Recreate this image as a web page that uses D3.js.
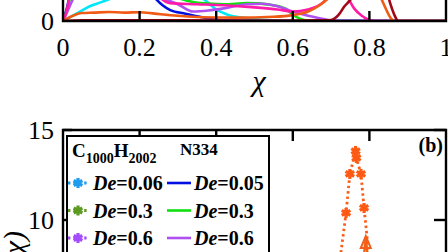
<!DOCTYPE html>
<html>
<head>
<meta charset="utf-8">
<script src="https://cdn.jsdelivr.net/npm/d3@7"></script>
<style>
  body { margin: 0; background: #fff; }
  svg { display: block; }
</style>
</head>
<body>
<div id="chart"></div>
<script>
// x ticks shared by both panels
const xTicks = [0, 0.2, 0.4, 0.6, 0.8, 1];
const xTickLabels = ["0", "0.2", "0.4", "0.6", "0.8", "1"];

// panel (a): only the bottom strip of it is in view
const aBlue   = [[0,0],[0.01,0.6],[0.02,1.4],[0.04,2.5],[0.08,3.5],[0.15,3],[0.22,1.5],[0.26,0.75],[0.28,0.52],[0.32,0.35],[0.36,0.19],[0.4,0.06],[0.45,0.02],[0.5,0],[1,0]];
const aGreen  = [[0,0],[0.01,0.5],[0.02,1.2],[0.05,2.5],[0.1,3],[0.2,2],[0.3,1.1],[0.36,0.85],[0.42,0.8],[0.48,0.85],[0.54,0.78],[0.58,0.6],[0.6,0.3],[0.62,0.1],[0.65,0],[1,0]];
const aPurple = [[0,0],[0.01,0.4],[0.03,1.2],[0.08,2.5],[0.18,2],[0.26,1.1],[0.3,0.8],[0.34,0.45],[0.38,0.5],[0.42,0.6],[0.48,0.8],[0.52,0.82],[0.56,0.7],[0.6,0.45],[0.64,0.25],[0.68,0.1],[0.7,0.02],[1,0]];
const aPink   = [[0,0],[0.01,0.5],[0.02,1.5],[0.05,3],[0.12,3.5],[0.2,2.2],[0.28,0.85],[0.35,0.8],[0.42,0.75],[0.5,0.65],[0.56,0.55],[0.6,0.45],[0.64,0.55],[0.68,0.9],[0.7,1.3],[0.72,1.5],[0.74,1.2],[0.76,0.6],[0.78,0.25],[0.8,0.05],[0.82,0],[1,0]];
const aCyan   = [[0,0],[0.02,0.2],[0.04,0.4],[0.07,0.7],[0.1,0.9],[0.13,1.1],[0.2,1.6],[0.3,1.4],[0.37,1],[0.4,0.55],[0.43,0.3],[0.47,0.15],[0.52,0.06],[0.6,0.01],[1,0]];
const aOrange = [[0,0],[0.02,0.2],[0.05,0.38],[0.08,0.4],[0.12,0.43],[0.16,0.4],[0.2,0.42],[0.24,0.35],[0.3,0.25],[0.36,0.18],[0.45,0.16],[0.55,0.2],[0.6,0.28],[0.64,0.45],[0.67,0.75],[0.7,1.2],[0.74,2],[0.77,2.4],[0.8,2],[0.83,1.1],[0.845,0.5],[0.855,0.15],[0.865,0],[1,0]];
const aMaroon = [[0,0],[0.05,0.03],[0.3,0.03],[0.6,0.02],[0.68,0.03],[0.7,0.05],[0.72,0.3],[0.735,0.7],[0.75,1],[0.78,2],[0.81,2.5],[0.84,1.8],[0.855,0.8],[0.865,0.3],[0.875,0],[1,0]];

// panel (b)
const bYTicks = [10, 15];
const bDotted = [[0.66,3],[0.70,5.2],[0.722,7.6],[0.739,10.39],[0.749,12.56],[0.764,13.83],[0.766,13.45],[0.778,12.56],[0.786,10.67],[0.80,7.8],[0.82,5],[0.86,3]];
const bSolid  = [[0.75,3],[0.776,6],[0.7905,9.0],[0.806,6],[0.83,3]];

const legendLeft  = ["De=0.06", "De=0.3", "De=0.6"];
const legendRight = ["De=0.05", "De=0.3", "De=0.6"];
const legendDotColors  = ["#1e9cf0", "#5c9a20", "#a64cff"];
const legendLineColors = ["#0010e0", "#10e010", "#b050f0"];

const width = 448, height = 252;
const serif = "'Liberation Serif', Tinos, 'DejaVu Serif', serif";
const svg = d3.select("#chart").append("svg")
    .attr("width", width).attr("height", height)
    .style("font-family", serif);

const x = d3.scaleLinear().domain([0, 1]).range([63, 446]);
const yA = d3.scaleLinear().domain([0, 10]).range([21, -189]);
const yB = d3.scaleLinear().domain([5, 15]).range([310, 130]);

svg.append("clipPath").attr("id", "clipA")
    .append("rect").attr("x", x(0)).attr("y", -200).attr("width", x(1) - x(0)).attr("height", 221);
svg.append("clipPath").attr("id", "clipB")
    .append("rect").attr("x", x(0)).attr("y", yB(15)).attr("width", x(1) - x(0)).attr("height", 200);

// ---- panel (a) ----
let lineA = d3.line().x(d => x(d[0])).y(d => yA(d[1])).curve(d3.curveMonotoneX);
let curvesA = [
    [aCyan, "#00e8f8"], [aBlue, "#0010e0"], [aGreen, "#10e010"], [aPurple, "#b050f0"],
    [aPink, "#ff1aa8"], [aOrange, "#f05a14"], [aMaroon, "#a00818"]
];
let gA = svg.append("g").attr("clip-path", "url(#clipA)");
curvesA.forEach(c => {
    gA.append("path").datum(c[0])
        .attr("d", lineA)
        .attr("fill", "none")
        .attr("stroke", c[1])
        .attr("stroke-width", 2.6);
});

let axisA = svg.append("g").attr("stroke", "#000").attr("stroke-width", 2.4).attr("fill", "none");
axisA.append("path").attr("d", `M${x(0)},-5V${yA(0)}H${x(1)}V-5`);
xTicks.slice(1, -1).forEach(t => {
    axisA.append("line").attr("x1", x(t)).attr("x2", x(t)).attr("y1", yA(0)).attr("y2", yA(0) - 10);
});

svg.selectAll(".xlab").data(xTicks).enter().append("text")
    .attr("class", "xlab")
    .attr("x", d => x(d)).attr("y", 56)
    .attr("text-anchor", "middle")
    .attr("font-size", 26)
    .text((d, i) => xTickLabels[i]);

svg.append("text").attr("x", 54).attr("y", yA(0) + 9)
    .attr("text-anchor", "end").attr("font-size", 26).text("0");

svg.append("text").attr("x", 259).attr("y", 91)
    .attr("text-anchor", "middle").attr("font-size", 30).attr("font-style", "italic").text("χ");

// ---- panel (b) ----
let axisB = svg.append("g").attr("stroke", "#000").attr("stroke-width", 2.4).attr("fill", "none");
axisB.append("path").attr("d", `M${x(0)},260V${yB(15)}H${x(1)}V260`);
xTicks.slice(1, -1).forEach(t => {
    axisB.append("line").attr("x1", x(t)).attr("x2", x(t)).attr("y1", yB(15)).attr("y2", yB(15) + 11);
});
bYTicks.forEach(t => {
    axisB.append("line").attr("x1", x(0)).attr("x2", x(0) + 9).attr("y1", yB(t)).attr("y2", yB(t));
    axisB.append("line").attr("x1", x(1)).attr("x2", x(1) - 12).attr("y1", yB(t)).attr("y2", yB(t));
});

svg.selectAll(".ylab").data(bYTicks).enter().append("text")
    .attr("class", "ylab")
    .attr("x", 54).attr("y", d => yB(d) + 9)
    .attr("text-anchor", "end").attr("font-size", 26)
    .text(d => d);

svg.append("text")
    .attr("transform", "translate(24,231) rotate(-90)")
    .attr("text-anchor", "end").attr("font-size", 30).attr("font-style", "italic")
    .text("P(χ)");

svg.append("text").attr("x", 443).attr("y", 152)
    .attr("text-anchor", "end").attr("font-size", 20).attr("font-weight", "bold").text("(b)");

let gB = svg.append("g").attr("clip-path", "url(#clipB)");
let lineB = d3.line().x(d => x(d[0])).y(d => yB(d[1]));
const orange = "#ff5a14";

gB.append("path").datum(bSolid)
    .attr("d", lineB).attr("fill", "none")
    .attr("stroke", "#f06018").attr("stroke-width", 2.4);
gB.append("path")
    .attr("d", "M0,-7L5,5H-5Z")
    .attr("transform", `translate(${x(bSolid[2][0])},${yB(bSolid[2][1]) + 5})`)
    .attr("fill", "none").attr("stroke", "#f06018").attr("stroke-width", 2);

gB.append("path").datum(bDotted)
    .attr("d", lineB).attr("fill", "none")
    .attr("stroke", orange).attr("stroke-width", 2.8)
    .attr("stroke-dasharray", "2.4,3");
let star = d3.symbol().type(d3.symbolAsterisk).size(70);
gB.selectAll(".star").data(bDotted).enter().append("path")
    .attr("class", "star")
    .attr("d", star)
    .attr("transform", d => `translate(${x(d[0])},${yB(d[1])})`)
    .attr("fill", "none").attr("stroke", orange).attr("stroke-width", 3.2);

// legend
let leg = svg.append("g");
leg.append("rect").attr("x", 67).attr("y", 136).attr("width", 202).attr("height", 140)
    .attr("fill", "#fff").attr("stroke", "#000").attr("stroke-width", 2);

let title = leg.append("text").attr("x", 72).attr("y", 157)
    .attr("font-size", 19).attr("font-weight", "bold");
title.append("tspan").text("C");
title.append("tspan").attr("font-size", 14).attr("dy", 6).text("1000");
title.append("tspan").attr("dy", -6).text("H");
title.append("tspan").attr("font-size", 14).attr("dy", 6).text("2002");
leg.append("text").attr("x", 180).attr("y", 155)
    .attr("font-size", 17).attr("font-weight", "bold").text("N334");

let rowY = d3.scalePoint().domain(d3.range(3)).range([183, 238]);
legendLeft.forEach((lab, i) => {
    let cy = rowY(i);
    leg.append("line").attr("x1", 68).attr("x2", 89).attr("y1", cy).attr("y2", cy)
        .attr("stroke", legendDotColors[i]).attr("stroke-width", 2.8).attr("stroke-dasharray", "2.4,3");
    leg.append("path").attr("d", star).attr("transform", `translate(78,${cy})`)
        .attr("fill", "none").attr("stroke", legendDotColors[i]).attr("stroke-width", 3.2);
    let t = leg.append("text").attr("x", 93).attr("y", cy + 7).attr("font-size", 20).attr("font-weight", "bold");
    t.append("tspan").attr("font-style", "italic").text(lab.split("=")[0]);
    t.append("tspan").text("=" + lab.split("=")[1]);

    leg.append("line").attr("x1", 167).attr("x2", 191).attr("y1", cy).attr("y2", cy)
        .attr("stroke", legendLineColors[i]).attr("stroke-width", 2.6);
    let t2 = leg.append("text").attr("x", 194).attr("y", cy + 7).attr("font-size", 20).attr("font-weight", "bold");
    t2.append("tspan").attr("font-style", "italic").text(legendRight[i].split("=")[0]);
    t2.append("tspan").text("=" + legendRight[i].split("=")[1]);
});
</script>
</body>
</html>
